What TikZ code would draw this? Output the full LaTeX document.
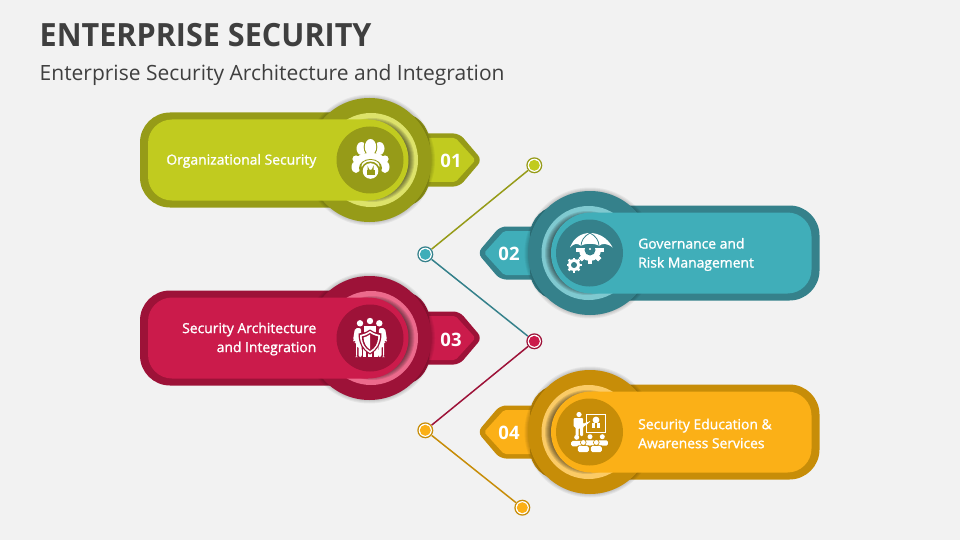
\documentclass[tikz,border=0pt]{standalone}
\usepackage{fontspec}
\setmainfont{Open Sans}
\newfontfamily\titlefont[FakeStretch=0.955]{Open Sans}
\newfontfamily\labelfont[FakeBold=1.3]{Open Sans}
\definecolor{limeB}{HTML}{C1CB1F}\definecolor{limeD}{HTML}{969B18}\definecolor{limeL}{HTML}{DDE26A}
\definecolor{tealB}{HTML}{40AEB9}\definecolor{tealD}{HTML}{35818B}\definecolor{tealL}{HTML}{7FC9D0}
\definecolor{redB}{HTML}{CB1B4B}\definecolor{redD}{HTML}{9D1238}\definecolor{redL}{HTML}{EC6A8C}
\definecolor{ambB}{HTML}{FBB017}\definecolor{ambD}{HTML}{C78D08}\definecolor{ambL}{HTML}{FBCB66}
\definecolor{bgG}{HTML}{F2F2F2}\definecolor{titleG}{HTML}{3F3F3F}
\tikzset{
  lbl/.style={text=white,font=\labelfont\fontsize{13.9}{19}\selectfont,inner sep=0pt},
  numlbl/.style={text=white,font=\fontsize{18.5}{20}\selectfont\bfseries,inner sep=0pt},
  icn/.style={fill=white,draw=none},
  dotnode/.style={circle,minimum size=16pt,inner sep=0pt}
}
% #1 cx, #2 cy, #3 sign, #4 base, #5 dark, #6 light
\newcommand{\blockshape}[6]{%
\begin{scope}[shift={(#1,#2)},xscale=#3]
  \fill[#5,rounded corners=6pt] (30,-26.5) -- (90,-26.5) -- (112.5,0) -- (90,26.5) -- (30,26.5) -- cycle;
  \fill[#4,rounded corners=2pt] (30,-22) -- (86,-22) -- (106,0) -- (86,22) -- (30,22) -- cycle;
  \fill[#5,rounded corners=30pt] (-229.5,-47.5) rectangle (60,47.5);
  \foreach \r in {62.5,63.5,64.5,65.5}{\fill[black,opacity=.05] (0,0) circle (\r);}
  \fill[#5] (0,0) circle (62);
  \fill[#6] (1.5,0) circle (47);
  \begin{scope}
    \clip (1.5,0) circle (47);
    \foreach \r in {37,38,39,40,41,42}{\fill[black,opacity=.1] (3,0) circle (\r);}
  \end{scope}
  \fill[#4,rounded corners=24pt] (-1.5,-40.5) -- (-221.5,-40.5) -- (-221.5,40.5) [sharp corners] -- (-1.5,40.5) -- cycle;
  \fill[#4] (-1.5,0) circle (40.5);
  \fill[#5] (0.5,0) circle (33.5);
\end{scope}}
\newcommand{\gearshape}[4]{% x y r colorhole
  \foreach \a in {0,45,...,315}{\fill[white,rotate around={\a:(#1,#2)}] (#1-0.2*#3,#2-1.25*#3) rectangle (#1+0.2*#3,#2+1.25*#3);}
  \fill[white] (#1,#2) circle (#3);
  \fill[#4] (#1,#2) circle (0.5*#3);
}
\begin{document}
\begin{tikzpicture}[x=1pt,y=-1pt]
\useasboundingbox (0,0) rectangle (960,540);
\fill[bgG] (0,0) rectangle (960,540);
\node[anchor=west,inner sep=0pt,text=titleG,font=\titlefont\fontsize{32}{36}\selectfont\bfseries] (title) at (39.5,34.7) {ENTERPRISE SECURITY};
\node[anchor=west,inner sep=0pt,text=titleG,font=\fontsize{21}{24}\selectfont] (subtitle) at (39.5,75.5) {Enterprise Security Architecture and Integration};

% connectors
\node[dotnode,fill=limeD] (d1) at (534.3,165.3) {};
\node[dotnode,fill=tealD] (d2) at (425.3,254.3) {};
\node[dotnode,fill=redD] (d3) at (534.3,341.3) {};
\node[dotnode,fill=ambD] (d4) at (425.3,430.3) {};
\node[dotnode,fill=ambD] (d5) at (522.3,507.7) {};
\draw[limeD,line width=1.5pt] (d1) -- (d2);
\draw[tealD,line width=1.5pt] (d2) -- (d3);
\draw[redD,line width=1.5pt] (d3) -- (d4);
\draw[ambD,line width=1.5pt] (d4) -- (d5);
\foreach \n/\c in {d1/limeB,d2/tealB,d3/redB,d4/ambB,d5/ambB}{
  \fill[white] (\n.center) circle (6.6);
  \fill[\c] (\n.center) circle (5.5);
}

\blockshape{369.5}{160}{1}{limeB}{limeD}{limeL}
\blockshape{590}{253}{-1}{tealB}{tealD}{tealL}
\blockshape{369.5}{338}{1}{redB}{redD}{redL}
\blockshape{590}{432}{-1}{ambB}{ambD}{ambL}

\node[lbl,anchor=east] (t1) at (316.5,161) {Organizational Security};
\node[lbl,anchor=west,align=left] (t2) at (638,254.5) {Governance and\\Risk Management};
\node[lbl,anchor=east,align=right] (t3) at (316.5,339) {Security Architecture\\and Integration};
\node[lbl,anchor=west,align=left] (t4) at (638,433.5) {Security Education \&\\Awareness Services};
\node[numlbl] (n1) at (451,161) {01};
\node[numlbl] (n2) at (509,254) {02};
\node[numlbl] (n3) at (451,340) {03};
\node[numlbl] (n4) at (509,433) {04};

% icon 1: people with lock
\fill[icn] (361.5,148.5) ellipse (5 and 6.5);
\fill[icn] (379.5,148.5) ellipse (5 and 6.5);
\fill[limeD] (370.5,147) ellipse (6.8 and 9);
\fill[icn] (370.5,147) ellipse (5.7 and 8);
\fill[icn] (370.5,160) ellipse (15 and 7);
\fill[icn] (356,159) circle (3.6);
\fill[icn] (385,159) circle (3.6);
\fill[icn] (356,167) ellipse (4.5 and 6);
\fill[icn] (385,167) ellipse (4.5 and 6);
\fill[limeD] (370.5,168) ellipse (11.5 and 9);
\fill[icn] (370.5,166) ellipse (9 and 6);
\fill[limeD] (370.5,171) circle (9.5);
\fill[icn] (370.5,171) circle (7.8);
\draw[limeD,line width=1pt] (368,170) -- (368,168) arc (180:0:2.5) -- (373,170);
\fill[limeD] (366.5,170) rectangle (374.5,175.5);

% icon 2: umbrella with gears
\gearshape{590}{250}{11}{tealD}
\gearshape{574}{265}{6}{tealD}
\fill[tealD] (568,243) rectangle (612,248);
\fill[icn] (570,247.5) .. controls (574,237) and (582,233) .. (590,233) .. controls (598,233) and (607,237) .. (612.7,247.5)
   .. controls (607,243) and (602,243) .. (599,246) .. controls (596,243) and (584,243) .. (581,246) .. controls (578,243) and (574,243) .. (570,247.5) -- cycle;
\draw[tealD,line width=.8pt] (590,233) .. controls (584,236) and (581,241) .. (581,246);
\draw[tealD,line width=.8pt] (590,233) .. controls (596,236) and (599,241) .. (599,246);
\fill[tealD] (590,249) circle (4.5);
\fill[icn] (590,249) circle (1.2);

% icon 3: people with shield
\foreach \x/\y in {360/323.3,370/321,379.3/323.3}{\fill[icn] (\x,\y) circle (3.2);}
\fill[icn,rounded corners=2pt] (353,340) -- (355,328) -- (361,328) -- (362,357) -- (358.5,357) -- (358.5,346) -- (357,346) -- (357,357) -- (356,357) -- (356,342) -- (354,342) -- cycle;
\fill[icn,rounded corners=2pt] (387,340) -- (385,328) -- (379,328) -- (378,357) -- (381.5,357) -- (381.5,346) -- (383,346) -- (383,357) -- (384,357) -- (384,342) -- (386,342) -- cycle;
\fill[icn] (364,325.5) rectangle (376,335);
\fill[icn] (362.5,345) rectangle (366,357);
\fill[icn] (368,348) rectangle (372,357);
\fill[icn] (374,345) rectangle (377.5,357);
\fill[redD] (370,329.5) .. controls (365,333) and (362,333) .. (358.5,333.5) .. controls (358.5,343) and (362,350) .. (370,354.5) .. controls (378,350) and (381.5,343) .. (381.5,333.5) .. controls (378,333) and (375,333) .. (370,329.5) -- cycle;
\fill[icn] (370,331) .. controls (365.5,334) and (363,334.5) .. (360,335) .. controls (360,343) and (363,349) .. (370,353) .. controls (377,349) and (380,343) .. (380,335) .. controls (377,334.5) and (374.5,334) .. (370,331) -- cycle;
\fill[redD] (370,333) .. controls (366,335.5) and (364,336) .. (361.8,336.4) .. controls (362,343) and (364.5,348) .. (370,351) .. controls (375.5,348) and (378,343) .. (378.2,336.4) .. controls (376,336) and (374,335.5) .. (370,333) -- cycle;
\fill[icn] (370,334.5) .. controls (367,336.5) and (365.5,337) .. (363.5,337.5) .. controls (364,343) and (366,347) .. (370,349.5) -- cycle;

% icon 4: presenter and audience
\fill[icn] (579,414.5) circle (2.6);
\fill[icn,rounded corners=1pt] (573.5,418) -- (583,418) -- (583,424) -- (588,421.5) -- (589,423) -- (583,427) -- (583,436) -- (580,436) -- (580,428) -- (578.5,428) -- (578.5,436) -- (575.5,436) -- (575.5,427) -- (573.5,427) -- cycle;
\draw[white,line width=1.1pt] (586.5,414.5) rectangle (605.5,432.5);
\draw[white,line width=.8pt] (584,425) -- (590,421.5);
\fill[icn] (596,420) circle (3.4);
\fill[icn] (592,422.5) rectangle (600,428);
\fill[ambD] (595.4,423) rectangle (596.6,429);
\foreach \x/\y in {576.7/437.3,590/436.7,602.3/436.7}{
  \fill[icn] (\x,\y) circle (2.5);
  \fill[icn,rounded corners=1.5pt] (\x-5.5,\y+9) -- (\x-5.5,\y+3.6) -- (\x+5.5,\y+3.6) -- (\x+5.5,\y+9) -- cycle;
}
\foreach \x/\y in {583.3/442.5,596.3/442.5}{
  \fill[ambD] (\x,\y) circle (3.2);
  \fill[icn] (\x,\y) circle (2.4);
  \fill[ambD,rounded corners=1.5pt] (\x-6.5,\y+10) -- (\x-6.5,\y+2.8) -- (\x+6.5,\y+2.8) -- (\x+6.5,\y+10) -- cycle;
  \fill[icn,rounded corners=1.5pt] (\x-5.5,\y+9.5) -- (\x-5.5,\y+3.6) -- (\x+5.5,\y+3.6) -- (\x+5.5,\y+9.5) -- cycle;
}
\end{tikzpicture}
\end{document}
